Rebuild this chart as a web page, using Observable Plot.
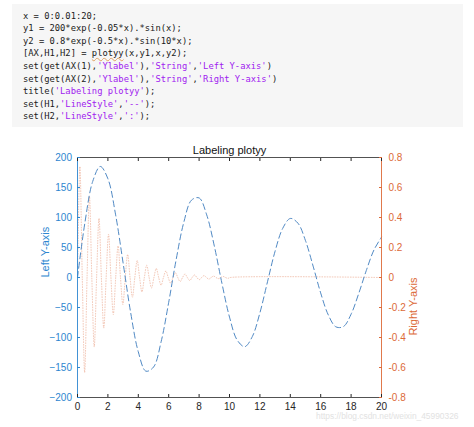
<!DOCTYPE html>
<html>
<head>
<meta charset="utf-8">
<script src="https://cdn.jsdelivr.net/npm/d3@7"></script>
<script src="https://cdn.jsdelivr.net/npm/@observablehq/plot@0.6"></script>
<style>
  html, body { margin: 0; padding: 0; background: #fff; width: 474px; height: 427px; overflow: hidden; }
  #code {
    position: absolute; left: 12px; top: 4px; width: 451px; height: 123px;
    background: #f6f6f6; margin: 0; padding: 5.7px 0 0 11px; box-sizing: border-box;
    font-family: "DejaVu Sans Mono", "Liberation Mono", monospace; font-size: 8.8px; line-height: 12.6px;
    color: #1a1a1a; white-space: pre;
  }
  #code .s { color: #a020f0; }
  #code .u { text-decoration: underline wavy #e0a060; text-decoration-thickness: 1px; }
  #chart { position: absolute; left: 0; top: 135px; }
  #wm { position: absolute; left: 316px; top: 411px; font: 8.4px "Liberation Sans", Arial, sans-serif; color: #e2e2e2; white-space: nowrap; }
</style>
</head>
<body>
<pre id="code">x = 0:0.01:20;
y1 = 200*exp(-0.05*x).*sin(x);
y2 = 0.8*exp(-0.5*x).*sin(10*x);
[AX,H1,H2] = <span class="u">plotyy</span>(x,y1,x,y2);
set(get(AX(1),<span class="s">'Ylabel'</span>),<span class="s">'String'</span>,<span class="s">'Left Y-axis'</span>)
set(get(AX(2),<span class="s">'Ylabel'</span>),<span class="s">'String'</span>,<span class="s">'Right Y-axis'</span>)
title(<span class="s">'Labeling plotyy'</span>);
set(H1,<span class="s">'LineStyle'</span>,<span class="s">'--'</span>);
set(H2,<span class="s">'LineStyle'</span>,<span class="s">':'</span>);</pre>
<div id="chart"></div>
<div id="wm">https://blog.csdn.net/weixin_45990326</div>
<script>
// Series 1 (left axis): x and y1 values
const x1 = [0,0.5,1,1.5,2,2.5,3,3.5,4,4.5,5,5.5,6,6.5,7,7.5,8,8.5,9,9.5,10,10.5,11,11.5,12,12.5,13,13.5,14,14.5,15,15.5,16,16.5,17,17.5,18,18.5,19,19.5,20];
const y1 = [0,93.5,160.1,185.1,164.6,105.6,24.3,-58.9,-123.9,-156.1,-149.4,-107.2,-41.4,31.1,92.6,128.9,132.6,104.4,52.6,-9.4,-66.0,-104.1,-115.4,-98.5,-58.9,-7.1,43.9,81.9,98.4,90.6,61.4,19.0,-25.9,-62.4,-82.2,-81.7,-61.1,-26.8,11.6,45.7,67.2];

// Series 2 (right axis): x and y2 values (peaks / zero crossings)
const x2 = [0,0.157,0.314,0.471,0.628,0.785,0.942,1.100,1.257,1.414,1.571,1.728,1.885,2.042,2.199,2.356,2.513,2.670,2.827,2.985,3.142,3.299,3.456,3.613,3.770,3.927,4.084,4.241,4.398,4.555,4.712,4.869,5.027,5.184,5.341,5.498,5.655,5.812,5.969,6.126,6.283,6.440,6.597,6.754,6.912,7.069,7.226,7.383,7.540,7.697,7.854,8.011,8.168,8.325,8.482,8.639,8.796,8.954,9.111,9.268,9.425,9.582,9.739,9.896,10.053,20];
const y2 = [0,0.7396,0,-0.6321,0,0.5402,0,-0.4617,0,0.3946,0,-0.3372,0,0.2882,0,-0.2463,0,0.2105,0,-0.1799,0,0.1537,0,-0.1314,0,0.1123,0,-0.0960,0,0.0820,0,-0.0701,0,0.0599,0,-0.0512,0,0.0438,0,-0.0374,0,0.0320,0,-0.0273,0,0.0233,0,-0.0200,0,0.0170,0,-0.0146,0,0.0125,0,-0.0107,0,0.0091,0,-0.0078,0,0.0067,0,-0.0057,0,0];

// Axis ticks
const xTicks = [0,2,4,6,8,10,12,14,16,18,20];
const leftTicks = [-200,-150,-100,-50,0,50,100,150,200];
const rightTicks = [-0.8,-0.6,-0.4,-0.2,0,0.2,0.4,0.6,0.8];
const leftDomain = [-200, 200];
const rightDomain = [-0.8, 0.8];

const titleText = "Labeling plotyy";
const leftLabel = "Left Y-axis";
const rightLabel = "Right Y-axis";

const blue = "#2d86d0";
const orange = "#dc6a38";
const dark = "#262626";

const k = leftDomain[1] / rightDomain[1]; // right -> left scale factor
const s1 = x1.map((x, i) => ({x, y: y1[i]}));
const s2 = x2.map((x, i) => ({x, y: y2[i] * k}));

const chart = Plot.plot({
  width: 474,
  height: 292,
  marginTop: 22,
  marginBottom: 30,
  marginLeft: 77,
  marginRight: 93,
  style: {fontFamily: "'Liberation Sans', Arial, Helvetica, sans-serif", fontSize: "10px", background: "transparent"},
  x: {domain: [0, 20]},
  y: {domain: leftDomain},
  marks: [
    Plot.line(s2, {x: "x", y: "y", stroke: "#e27d55", strokeWidth: 0.8, strokeDasharray: "0.8,1.8", curve: "catmull-rom", strokeOpacity: 0.55}),
    Plot.line(s1, {x: "x", y: "y", stroke: "#5089c4", strokeWidth: 1, strokeDasharray: "6,3.5", curve: "catmull-rom"}),
    // frame lines
    Plot.ruleY([leftDomain[1]], {stroke: dark, strokeWidth: 0.8}),
    Plot.ruleY([leftDomain[0]], {stroke: dark, strokeWidth: 0.8}),
    Plot.ruleX([0], {stroke: blue, strokeWidth: 0.9}),
    Plot.ruleX([20], {stroke: orange, strokeWidth: 0.9}),
    // inward ticks
    Plot.axisX(xTicks, {anchor: "bottom", tickSize: -3, text: null, label: null, stroke: dark}),
    Plot.axisX(xTicks, {anchor: "top", tickSize: -3, text: null, label: null, stroke: dark}),
    Plot.axisY(leftTicks, {anchor: "left", tickSize: -3, text: null, label: null, stroke: blue}),
    Plot.axisY(rightTicks.map(v => v * k), {anchor: "right", tickSize: -3, text: null, label: null, stroke: orange}),
    // tick labels
    Plot.axisX(xTicks, {anchor: "bottom", tickSize: 0, tickPadding: 5, label: null, fill: dark, fontSize: 10}),
    Plot.axisY(leftTicks, {anchor: "left", tickSize: 0, tickPadding: 5.5, label: null, fill: blue, fontSize: 10}),
    Plot.axisY(rightTicks.map(v => v * k), {anchor: "right", tickSize: 0, tickPadding: 7, label: null, fill: orange, fontSize: 10,
      tickFormat: d => { const v = d / k; return Math.abs(v) < 1e-9 ? "0" : v.toFixed(1); }}),
    // title and axis labels
    Plot.text([titleText], {frameAnchor: "top", lineAnchor: "bottom", dy: -3.5, fill: "#111", fontSize: 11}),
    Plot.text([leftLabel], {frameAnchor: "left", rotate: -90, dx: -32, fill: blue, fontSize: 11}),
    Plot.text([rightLabel], {frameAnchor: "right", rotate: -90, dx: 32, fill: orange, fontSize: 11})
  ]
});
document.getElementById("chart").appendChild(chart);
</script>
</body>
</html>
